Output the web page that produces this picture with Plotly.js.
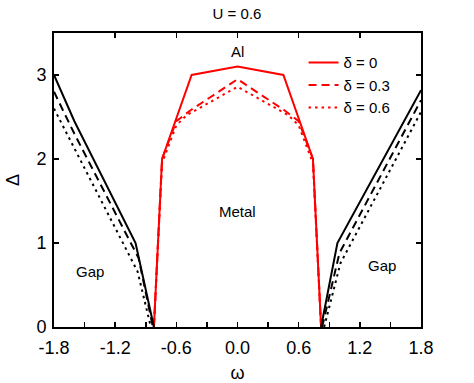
<!DOCTYPE html>
<html>
<head>
<meta charset="utf-8">
<script src="https://cdn.plot.ly/plotly-3.0.1.min.js"></script>
<style>html,body{margin:0;padding:0;background:#fff;}#chart{width:474px;height:383px;}</style>
</head>
<body>
<div id="chart"></div>
<script>
// Gap boundary (black) - left branch
var gapLeftX0 = [-1.8, -1.6, -1.0, -0.82];
var gapLeftY0 = [3.0, 2.45, 1.0, 0];
var gapLeftX3 = [-1.8, -1.6, -0.97, -0.83];
var gapLeftY3 = [2.8, 2.3, 0.82, 0];
var gapLeftX6 = [-1.8, -0.98, -0.85];
var gapLeftY6 = [2.6, 0.66, 0];
// Gap boundary (black) - right branch
var gapRightX0 = [0.82, 0.98, 1.8];
var gapRightY0 = [0, 1.0, 2.82];
var gapRightX3 = [0.83, 1.0, 1.8];
var gapRightY3 = [0, 0.88, 2.7];
var gapRightX6 = [0.85, 1.01, 1.8];
var gapRightY6 = [0, 0.76, 2.56];
// Metal boundary (red)
var metalX0 = [-0.82, -0.74, -0.45, 0, 0.45, 0.74, 0.82];
var metalY0 = [0, 2.0, 3.0, 3.1, 3.0, 2.0, 0];
var metalX3 = [-0.82, -0.74, -0.6, -0.46, 0, 0.46, 0.6, 0.74, 0.82];
var metalY3 = [0, 2.0, 2.45, 2.58, 2.95, 2.58, 2.45, 2.0, 0];
var metalX6 = [-0.82, -0.74, -0.6, -0.5, 0, 0.5, 0.6, 0.74, 0.82];
var metalY6 = [0, 1.95, 2.4, 2.52, 2.86, 2.52, 2.4, 1.95, 0];

var legendNames = ['δ = 0', 'δ = 0.3', 'δ = 0.6'];
var xMajor = [-1.8, -1.2, -0.6, 0.0, 0.6, 1.2, 1.8];
var xMajorText = ['-1.8', '-1.2', '-0.6', '0.0', '0.6', '1.2', '1.8'];
var xMinor = [-1.5, -0.9, -0.3, 0.3, 0.9, 1.5];
var yTicks = [0, 1, 2, 3];

var DASH = '8px,5px';
var DOT = '2.5px,4px';
var FONT = 'Arial, "Liberation Sans", sans-serif';

function tr(x, y, color, dash, name, show) {
  return {x: x, y: y, type: 'scatter', mode: 'lines', name: name || '',
    showlegend: !!show, hoverinfo: 'skip',
    line: {color: color, width: 2, dash: dash}};
}

var traces = [
  tr(metalX0, metalY0, '#ff0000', 'solid', legendNames[0], true),
  tr(metalX3, metalY3, '#ff0000', DASH, legendNames[1], true),
  tr(metalX6, metalY6, '#ff0000', DOT, legendNames[2], true),
  tr(gapLeftX0, gapLeftY0, '#000', 'solid'),
  tr(gapLeftX3, gapLeftY3, '#000', DASH),
  tr(gapLeftX6, gapLeftY6, '#000', DOT),
  tr(gapRightX0, gapRightY0, '#000', 'solid'),
  tr(gapRightX3, gapRightY3, '#000', DASH),
  tr(gapRightX6, gapRightY6, '#000', DOT)
];

var allX = xMajor.concat(xMinor).sort(function(a,b){return a-b;});
var allXText = allX.map(function(v){ var i = xMajor.indexOf(v); return i >= 0 ? xMajorText[i] : ''; });

var layout = {
  width: 474, height: 383,
  margin: {l: 54, r: 53, t: 33, b: 56},
  paper_bgcolor: '#fff', plot_bgcolor: '#fff',
  font: {family: FONT, color: '#000', size: 15},
  title: {text: 'U = 0.6', x: 0.5, xanchor: 'center', y: 0.965, yanchor: 'middle', font: {size: 15, family: FONT}},
  showlegend: true,
  legend: {x: 0.68, y: 0.955, xanchor: 'left', yanchor: 'top', bgcolor: 'rgba(0,0,0,0)',
    font: {size: 15, family: FONT}, tracegroupgap: 0, itemwidth: 30},
  xaxis: {range: [-1.8, 1.8], tickmode: 'array', tickvals: allX, ticktext: allXText,
    ticks: 'inside', ticklen: 5, tickwidth: 1.5, tickcolor: '#000', ticklabelstandoff: 3,
    showline: true, linecolor: '#000', linewidth: 2, mirror: true,
    showgrid: false, zeroline: false, tickfont: {size: 18, family: FONT},
    title: {text: 'ω', font: {size: 18, family: FONT}, standoff: 10}},
  xaxis2: {range: [-1.8, 1.8], overlaying: 'x', side: 'top', tickmode: 'array', tickvals: xMajor,
    showticklabels: false, ticks: 'inside', ticklen: 5, tickwidth: 1.5, tickcolor: '#000',
    showline: false, showgrid: false, zeroline: false},
  yaxis: {range: [0, 3.5], tickmode: 'array', tickvals: yTicks,
    ticks: 'inside', ticklen: 5, tickwidth: 1.5, tickcolor: '#000', ticklabelstandoff: 2,
    showline: true, linecolor: '#000', linewidth: 2, mirror: 'ticks',
    showgrid: false, zeroline: false, tickfont: {size: 18, family: FONT},
    title: {text: 'Δ', font: {size: 18, family: FONT}, standoff: 12}},
  annotations: [
    {x: 0, y: 3.28, xref: 'x', yref: 'y', text: 'Al', showarrow: false, font: {size: 15, family: FONT}},
    {x: 0, y: 1.38, xref: 'x', yref: 'y', text: 'Metal', showarrow: false, font: {size: 15, family: FONT}},
    {x: -1.45, y: 0.66, xref: 'x', yref: 'y', text: 'Gap', showarrow: false, font: {size: 15, family: FONT}},
    {x: 1.42, y: 0.73, xref: 'x', yref: 'y', text: 'Gap', showarrow: false, font: {size: 15, family: FONT}}
  ]
};

// dummy trace for top axis
traces.push({x: [-1.8], y: [0], xaxis: 'x2', type: 'scatter', mode: 'none', showlegend: false, hoverinfo: 'skip'});

Plotly.newPlot('chart', traces, layout, {staticPlot: true, displayModeBar: false});
</script>
</body>
</html>
